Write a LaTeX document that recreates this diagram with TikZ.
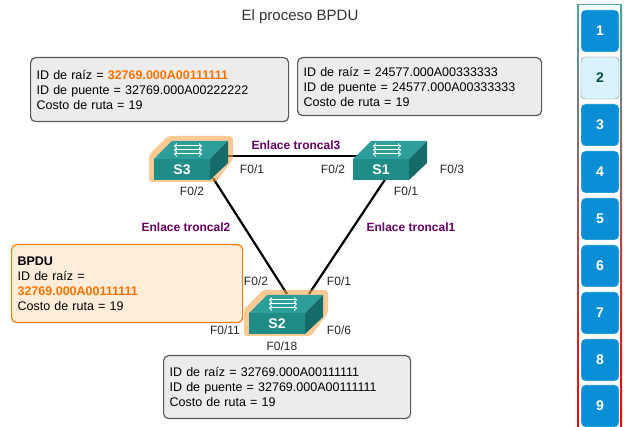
\documentclass[tikz,border=0pt]{standalone}
\usepackage{fontspec}
\setmainfont{Liberation Sans}
\definecolor{swtop}{HTML}{2E9E9A}
\definecolor{swside}{HTML}{156B6A}
\definecolor{swfront}{HTML}{1F8C88}
\definecolor{btnblue}{HTML}{0A8FD6}
\begin{document}
\begin{tikzpicture}[x=1pt,y=-1pt,
  box/.style={draw=gray!70!black,line width=1.2pt,fill=gray!15,rounded corners=5pt,anchor=north west,align=left,inner xsep=6pt,inner ysep=4pt,font=\fontsize{12.5}{15}\selectfont},
  lbl/.style={font=\fontsize{12}{13}\selectfont,text=gray!30!black},
  trunk/.style={font=\bfseries\fontsize{12}{13}\selectfont,text=violet!80!black},
  btn/.style={draw=white,fill=btnblue,rounded corners=4pt,minimum width=38pt,minimum height=42pt,text=white,font=\bfseries\fontsize{14}{15}\selectfont},
  link/.style={line width=2.2pt}]
\useasboundingbox (0,0) rectangle (624,427);
\fill[white] (0,0) rectangle (624,427);
\node[font=\fontsize{15}{17}\selectfont,text=gray!40!black] (title) at (300,17) {El proceso BPDU};
% boxes
\node[box,text width=246pt,minimum height=64pt] (b1) at (30,57) {ID de raíz = \textcolor{orange!90!red}{\textbf{32769.000A00111111}}\\ID de puente = 32769.000A00222222\\Costo de ruta = 19};
\node[box,text width=232pt,minimum height=58pt] (b2) at (297,57) {ID de raíz = 24577.000A00333333\\ID de puente = 24577.000A00333333\\Costo de ruta = 19};
\node[box,draw=orange,fill=orange!15,text width=219pt,minimum height=78pt] (b3) at (11,244) {\textbf{BPDU}\\ID de raíz =\\\textcolor{orange!90!red}{\textbf{32769.000A00111111}}\\Costo de ruta = 19};
\node[box,text width=235pt,minimum height=63pt] (b4) at (163,355) {ID de raíz = 32769.000A00111111\\ID de puente = 32769.000A00111111\\Costo de ruta = 19};
% switches
\tikzset{pics/sw/.style args={#1/#2}{code={
  \ifnum#2=1 \fill[orange!70,opacity=.6,rounded corners=3pt] (-39,-22) -- (-20,-41) -- (45,-41) -- (45,-18) -- (28,5) -- (-39,5) -- cycle;\fi
  \fill[swtop] (-34,-18) -- (-16,-36) -- (40,-36) -- (22,-18) -- cycle;
  \fill[swside] (22,-18) -- (40,-36) -- (40,-14) -- (22,3) -- cycle;
  \fill[swfront] (-34,-18) rectangle (22,3);
  \foreach \yy in {-31,-27,-23}{\draw[white,line width=1pt,<->] (-14,\yy) -- (14,\yy);}
  \node[white,font=\bfseries\fontsize{14}{15}\selectfont] at (-6,-7) {#1};
}}}
\coordinate (S3) at (188,177);
\coordinate (S1) at (387,177);
\coordinate (S2) at (283,331);
\draw[link] (221,156) -- (358,156);
\draw[link] (213,178) -- (287,294);
\draw[link] (386,178) -- (309,294);
\pic at (S3) {sw=S3/1};
\pic at (S1) {sw=S1/0};
\pic at (S2) {sw=S2/1};
% port labels
\node[lbl] (p1) at (252,169) {F0/1};
\node[lbl] (p2) at (333,169) {F0/2};
\node[lbl] (p3) at (452,169) {F0/3};
\node[lbl] (p4) at (192,191) {F0/2};
\node[lbl] (p5) at (406,191) {F0/1};
\node[lbl] (p6) at (256,281) {F0/2};
\node[lbl] (p7) at (339,281) {F0/1};
\node[lbl] (p8) at (225,330) {F0/11};
\node[lbl] (p9) at (339,330) {F0/6};
\node[lbl] (p10) at (282,346) {F0/18};
\node[trunk] (t3) at (296,145) {Enlace troncal3};
\node[trunk] (t2) at (186,227) {Enlace troncal2};
\node[trunk] (t1) at (411,227) {Enlace troncal1};
% sidebar
\shade[top color=teal!70,bottom color=red] (577,5) rectangle (622,427);
\fill[white] (579,5) rectangle (620,427);
\foreach \n/\yy in {1/31,2/78,3/125,4/172,5/219,6/266,7/313,8/360,9/406}{
  \ifnum\n=2
   \node[btn,fill=cyan!15,draw=gray,text=teal!60!black] (n\n) at (600,\yy) {\n};
  \else
   \node[btn] (n\n) at (600,\yy) {\n};
  \fi}
\end{tikzpicture}
\end{document}
